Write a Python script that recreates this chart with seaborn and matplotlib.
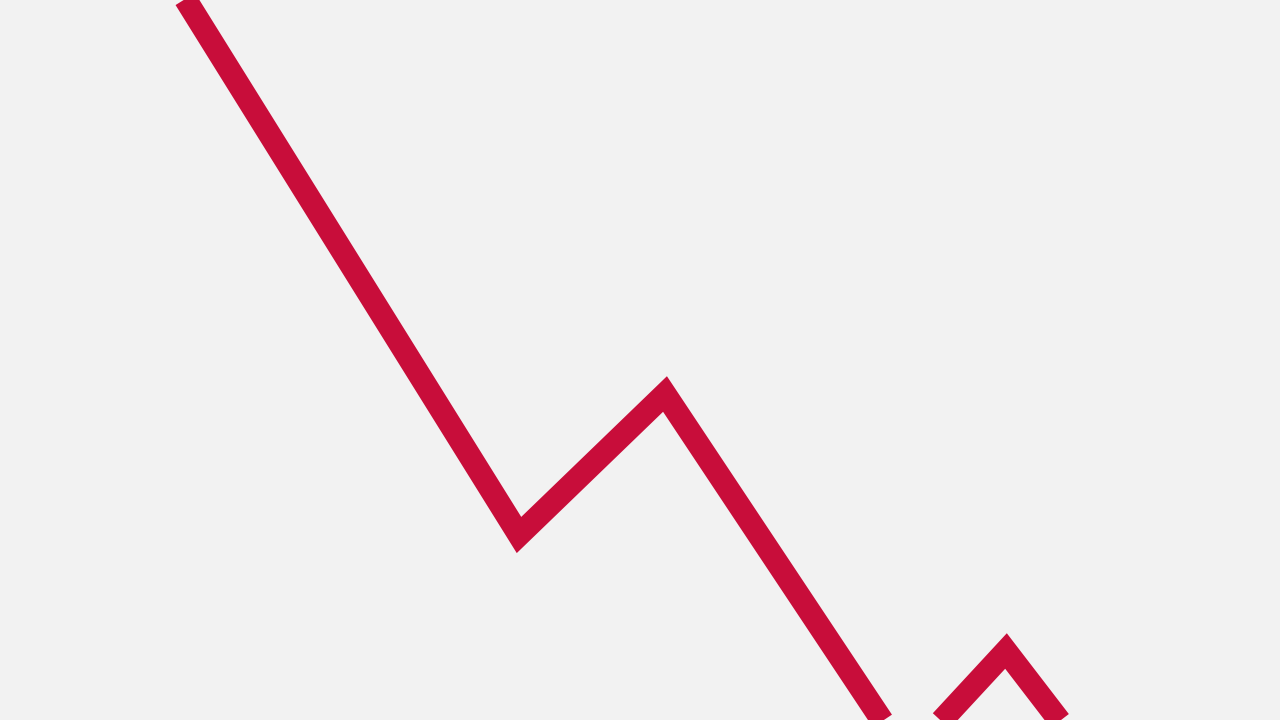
import numpy as np
import pandas as pd
import matplotlib
matplotlib.use("Agg")
import matplotlib.pyplot as plt
import seaborn as sns

# zigzag points (pixel-like units, y grows downward)
step = [0, 1, 2, 3, 4, 5]
xpos = [161, 519, 665, 907, 1006, 1092]
ypos = [-40, 535, 394, 758, 651, 763]

df = pd.DataFrame({"step": step, "x": xpos, "y": ypos})

sns.set_style("white")
fig = plt.figure(figsize=(12.8, 7.2), dpi=100, facecolor="#f2f2f2")
ax = fig.add_axes([0, 0, 1, 1])
ax.set_facecolor("#f2f2f2")

sns.lineplot(data=df, x="x", y="y", sort=False, color="#c80d3a",
             linewidth=16.5, ax=ax, solid_joinstyle="miter", solid_capstyle="butt")

ax.set_xlim(0, 1280)
ax.set_ylim(720, 0)
ax.axis("off")

plt.savefig("out.png", dpi=100, facecolor=fig.get_facecolor())
